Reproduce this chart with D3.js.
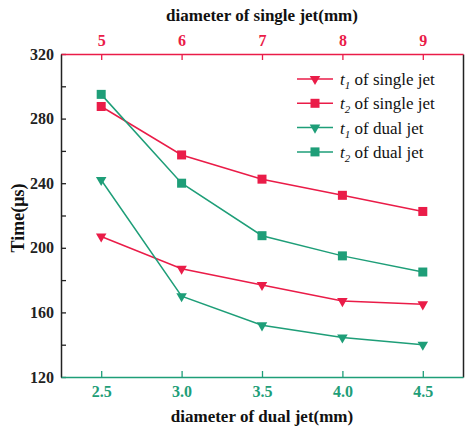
<!DOCTYPE html>
<html>
<head>
<meta charset="utf-8">
<script src="https://cdn.jsdelivr.net/npm/d3@7"></script>
<style>
  body { margin: 0; background: #fff; }
  text { font-family: "Liberation Serif", "DejaVu Serif", serif; }
</style>
</head>
<body>
<svg width="474" height="434"></svg>
<script>
// DATA
var dualDiameters = [2.5, 3.0, 3.5, 4.0, 4.5];
var singleTicks = [5, 6, 7, 8, 9];
var yTicks = [120, 160, 200, 240, 280, 320];

var t1Single = [207, 187, 177, 167, 165];
var t2Single = [287.5, 257.5, 242.5, 232.5, 222.5];
var t1Dual = [242, 170, 152, 144.5, 140];
var t2Dual = [295, 240, 207.5, 195, 185];

var red = "#ea1c48";
var green = "#1e9e78";
var dark = "#222";

var series = [
  { name: "1", label: " of single jet", values: t1Single, color: red, marker: "tri" },
  { name: "2", label: " of single jet", values: t2Single, color: red, marker: "sq" },
  { name: "1", label: " of dual jet", values: t1Dual, color: green, marker: "tri" },
  { name: "2", label: " of dual jet", values: t2Dual, color: green, marker: "sq" }
];

var svg = d3.select("svg");
var plotLeft = 61, plotRight = 463, plotTop = 54, plotBottom = 377;

var x = d3.scaleLinear().domain([2.25, 4.75]).range([plotLeft, plotRight]);
var xTop = d3.scaleLinear().domain([4.5, 9.5]).range([plotLeft, plotRight]);
var y = d3.scaleLinear().domain([120, 320]).range([plotBottom, plotTop]);

// AXES

var gy = svg.append("g").attr("transform", "translate(" + plotLeft + ",0)")
    .call(d3.axisLeft(y).tickValues(d3.range(120, 321, 20)).tickSize(-5).tickSizeOuter(0).tickPadding(7)
      .tickFormat(function(d) { return yTicks.indexOf(d) >= 0 ? d : ""; }));
gy.select(".domain").attr("stroke", dark).attr("stroke-width", 1.5);
gy.selectAll(".tick line").attr("stroke", dark).attr("stroke-width", 1.3);
gy.selectAll("text").attr("fill", dark).style("font-size", "16px").style("font-weight", "bold");

var gr = svg.append("g").attr("transform", "translate(" + plotRight + ",0)")
    .call(d3.axisRight(y).tickValues([]).tickSizeOuter(0));
gr.select(".domain").attr("stroke", dark).attr("stroke-width", 1.5);

var gx = svg.append("g").attr("transform", "translate(0," + plotBottom + ")")
    .call(d3.axisBottom(x).tickValues(dualDiameters).tickSize(-6).tickSizeOuter(0).tickPadding(9)
      .tickFormat(d3.format(".1f")));
gx.select(".domain").attr("stroke", green).attr("stroke-width", 1.5);
gx.selectAll(".tick line").attr("stroke", green).attr("stroke-width", 1.3);
gx.selectAll("text").attr("fill", green).style("font-size", "16px").style("font-weight", "bold");

var gt = svg.append("g").attr("transform", "translate(0," + plotTop + ")")
    .call(d3.axisTop(xTop).tickValues(singleTicks).tickSize(-6).tickSizeOuter(0).tickPadding(8)
      .tickFormat(d3.format("d")));
gt.select(".domain").attr("stroke", red).attr("stroke-width", 1.5);
gt.selectAll(".tick line").attr("stroke", red).attr("stroke-width", 1.3);
gt.selectAll("text").attr("fill", red).style("font-size", "16px").style("font-weight", "bold");

// TITLES

svg.append("text").attr("x", 262).attr("y", 21).attr("text-anchor", "middle")
    .style("font-size", "17px").style("font-weight", "bold").attr("fill", "#111")
    .text("diameter of single jet(mm)");
svg.append("text").attr("x", 262).attr("y", 422).attr("text-anchor", "middle")
    .style("font-size", "17px").style("font-weight", "bold").attr("fill", "#111")
    .text("diameter of dual jet(mm)");
svg.append("text").attr("transform", "translate(24,218) rotate(-90)").attr("text-anchor", "middle")
    .style("font-size", "18px").style("font-weight", "bold").attr("fill", "#111")
    .text("Time(μs)");

// LINES + MARKERS

var line = d3.line()
    .x(function(d, i) { return x(dualDiameters[i]); })
    .y(function(d) { return y(d); });

var triangle = d3.symbol().type(d3.symbolTriangle).size(48);

function drawMarker(g, kind, color) {
  if (kind === "sq") {
    g.append("rect").attr("x", -4.5).attr("y", -4.5).attr("width", 9).attr("height", 9)
        .attr("fill", color);
  } else {
    g.append("path").attr("d", triangle()).attr("transform", "rotate(180)")
        .attr("fill", color);
  }
}

series.forEach(function(s) {
  svg.append("path").datum(s.values)
      .attr("d", line)
      .attr("fill", "none")
      .attr("stroke", s.color)
      .attr("stroke-width", 1.5);
  s.values.forEach(function(v, i) {
    var g = svg.append("g").attr("transform", "translate(" + x(dualDiameters[i]) + "," + y(v) + ")");
    drawMarker(g, s.marker, s.color);
  });
});

// LEGEND

var legend = svg.append("g").attr("transform", "translate(297,79)");
series.forEach(function(s, i) {
  var row = legend.append("g").attr("transform", "translate(0," + (i * 24.3) + ")");
  row.append("line").attr("x1", 0).attr("x2", 36).attr("y1", 0).attr("y2", 0)
      .attr("stroke", s.color).attr("stroke-width", 1.5);
  var m = row.append("g").attr("transform", "translate(18,0)");
  drawMarker(m, s.marker, s.color);
  var t = row.append("text").attr("x", 43).attr("y", 6).attr("fill", "#111")
      .style("font-size", "17px");
  t.append("tspan").style("font-style", "italic").text("t");
  t.append("tspan").attr("dy", 4).style("font-size", "11px").style("font-style", "italic").text(s.name);
  t.append("tspan").attr("dy", -4).text(s.label);
});
</script>
</body>
</html>
